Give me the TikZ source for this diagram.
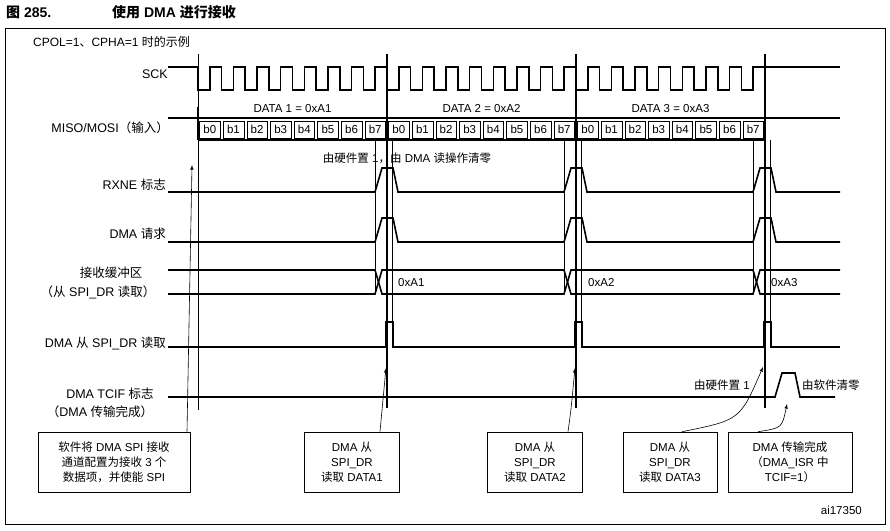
\documentclass[tikz,border=0pt]{standalone}
\usepackage{fontspec}
\setmainfont{Liberation Sans}
\newfontfamily\cjk{Noto Sans CJK SC}
\newcommand{\zh}[1]{{\cjk #1}}
\begin{document}
\begin{tikzpicture}[x=1pt,y=-1pt,
  sig/.style={line width=1.6pt,line join=miter},
  thin/.style={line width=0.5pt},
  lbl/.style={anchor=east,inner sep=0pt,font=\fontsize{12.5}{14}\selectfont},
  txt/.style={inner sep=0pt,font=\fontsize{11.5}{13}\selectfont},
  box/.style={draw,line width=0.6pt,align=center,font=\fontsize{11.5}{15}\selectfont,inner sep=0pt},
  arr/.style={line width=0.6pt,-latex}]
\useasboundingbox (0,0) rectangle (890,530);
\def\w{23.625}
% title and frame
\node[anchor=west,inner sep=0pt,font=\bfseries\fontsize{14}{16}\selectfont] (title) at (6,12) {\zh{图} 285.};
\node[anchor=west,inner sep=0pt,font=\bfseries\fontsize{14}{16}\selectfont] (title2) at (112,12) {\zh{使用} DMA \zh{进行接收}};
\draw[line width=0.8pt] (5,28) rectangle (885,524);
\node[txt,anchor=west,font=\fontsize{12}{14}\selectfont] (ex) at (33,42) {CPOL=1\zh{、}CPHA=1 \zh{时的示例}};
% labels
\node[lbl] (lsck) at (168,74) {SCK};
\node[lbl] (lmiso) at (169,128) {MISO/MOSI\zh{（输入）}};
\node[lbl] (lrx) at (166,185) {RXNE \zh{标志}};
\node[lbl] (lreq) at (166,234) {DMA \zh{请求}};
\node[txt,font=\fontsize{12.5}{14}\selectfont] (lbuf1) at (111,273) {\zh{接收缓冲区}};
\node[txt,font=\fontsize{12.5}{14}\selectfont] (lbuf2) at (98,292) {\zh{（从} SPI\_DR \zh{读取）}};
\node[lbl] (lrd) at (166,343) {DMA \zh{从} SPI\_DR \zh{读取}};
\node[txt,font=\fontsize{12.5}{14}\selectfont] (ltc1) at (110,394) {DMA TCIF \zh{标志}};
\node[txt,font=\fontsize{12.5}{14}\selectfont] (ltc2) at (100,412) {\zh{（}DMA \zh{传输完成）}};
% vertical guides
\draw[thin] (198,54) -- (198,410);
\foreach \T in {387,576,765}{
  \draw[line width=1.2pt] (\T,54) -- (\T,408);
  \draw[thin] (\T-12,140) -- (\T-12,294);
  \draw[thin] (\T+5,140) -- (\T+5,347);
}
% SCK
\draw[sig] (168,67) -- (198,67) foreach \i in {0,...,23}{ -- ({198+\i*\w},90) -- ({198+(\i+0.5)*\w},90) -- ({198+(\i+0.5)*\w},67) -- ({198+(\i+1)*\w},67)} -- (840,67);
% MISO
\draw[sig] (168,118) -- (840,118);
\draw[sig] (198,140) -- (765,140);
\foreach \T in {198,387,576,765} \draw[sig] (\T,107) -- (\T,140);
\foreach \k/\d in {0/1,1/2,2/3}{
  \node[txt] (dl\d) at ({198+(\k*8+4)*\w},109) {DATA \d\ = 0xA\d};
  \foreach \b in {0,...,7}{
    \draw[thin] ({198+(\k*8+\b)*\w+1.5},121) rectangle ({198+(\k*8+\b+1)*\w-1.5},138);
    \node[txt] at ({198+(\k*8+\b+0.5)*\w},129) {b\b};
  }
}
\node[txt] (note1) at (407,158) {\zh{由硬件置} 1\zh{，由} DMA \zh{读操作清零}};
% RXNE and DMA request
\foreach \hi/\lo in {168/192,218/242}{
  \draw[sig] (168,\lo) -- (375,\lo) -- (382,\hi) -- (393,\hi) -- (398,\lo)
    -- (564,\lo) -- (571,\hi) -- (582,\hi) -- (587,\lo)
    -- (753,\lo) -- (760,\hi) -- (771,\hi) -- (776,\lo) -- (840,\lo);
}
% buffer
\draw[sig] (168,270) -- (375,270) -- (382,294) -- (564,294) -- (571,270) -- (753,270) -- (760,294) -- (840,294);
\draw[sig] (168,294) -- (375,294) -- (382,270) -- (564,270) -- (571,294) -- (753,294) -- (760,270) -- (840,270);
\node[txt,anchor=west] (a1) at (398,283) {0xA1};
\node[txt,anchor=west] (a2) at (588,283) {0xA2};
\node[txt,anchor=west] (a3) at (771,283) {0xA3};
% DMA read
\draw[sig] (168,347) -- (386,347) -- (386,322) -- (393,322) -- (393,347)
  -- (575,347) -- (575,322) -- (582,322) -- (582,347)
  -- (764,347) -- (764,322) -- (771,322) -- (771,347) -- (840,347);
% TCIF
\draw[sig] (168,397) -- (775,397) -- (782,373) -- (795,373) -- (800,397) -- (835,397);
\node[txt,anchor=east] (hw) at (750,385) {\zh{由硬件置} 1};
\node[txt,anchor=west] (sw) at (802,385) {\zh{由软件清零}};
% boxes
\node[box,minimum width=152pt,minimum height=60pt] (b1) at (114,462) {\zh{软件将} DMA SPI \zh{接收}\\\zh{通道配置为接收} 3 \zh{个}\\\zh{数据项，并使能} SPI};
\node[box,minimum width=95pt,minimum height=60pt] (b2) at (352,462) {DMA \zh{从}\\SPI\_DR\\\zh{读取} DATA1};
\node[box,minimum width=95pt,minimum height=60pt] (b3) at (535,462) {DMA \zh{从}\\SPI\_DR\\\zh{读取} DATA2};
\node[box,minimum width=94pt,minimum height=60pt] (b4) at (670,462) {DMA \zh{从}\\SPI\_DR\\\zh{读取} DATA3};
\node[box,minimum width=124pt,minimum height=60pt] (b5) at (790,462) {DMA \zh{传输完成}\\\zh{（}DMA\_ISR \zh{中}\\TCIF=1\zh{）}};
\coordinate (t1) at (192,165);
\coordinate (t2) at (386,368);
\coordinate (t3) at (575,368);
\coordinate (t4) at (763,367);
\coordinate (t5) at (787,404);
\draw[arr] (b1.north -| 187,0) -- (t1);
\draw[arr] (b2.north -| 380,0) .. controls (382,410) .. (t2);
\draw[arr] (b3.north -| 568,0) .. controls (571,410) .. (t3);
\draw[arr] (b4.north -| 682,0) .. controls (740,420) .. (t4);
\draw[arr] (b5.north -| 758,0) .. controls (782,428) .. (t5);
\node[txt,anchor=east] (ai) at (862,510) {ai17350};
\end{tikzpicture}
\end{document}
